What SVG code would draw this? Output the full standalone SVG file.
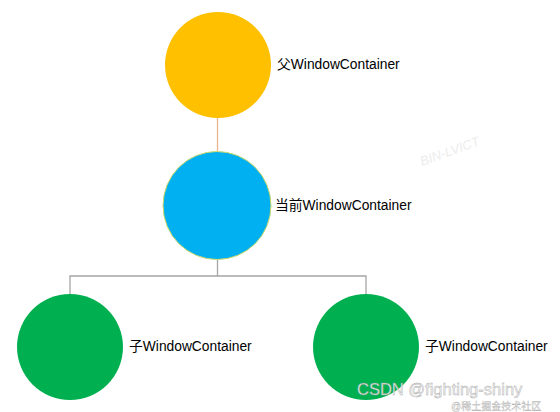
<svg xmlns="http://www.w3.org/2000/svg" width="560" height="412" viewBox="0 0 560 412">
<style>
.lbl{font-family:"Liberation Sans","Noto Sans CJK SC",sans-serif;font-size:13.8px;fill:#000}
.conn{fill:none;stroke:#A5A5A5;stroke-width:1.3}
</style>
<rect width="560" height="412" fill="#fff"/>
<g id="connectors">
<line x1="217.5" y1="118" x2="217.5" y2="152" stroke="#E9B48F" stroke-width="1.3"/>
<polyline class="conn" points="217.5,259 217.5,276 70,276 70,294"/>
<polyline class="conn" points="217.5,276 366,276 366,294"/>
</g>
<g id="parent">
<circle cx="218" cy="65" r="53" fill="#FFC000"/>
<text class="lbl" x="277" y="69">父WindowContainer</text>
</g>
<g id="current">
<circle cx="217" cy="205.5" r="54" fill="#00B0F0" stroke="#D6DC6A" stroke-width="1"/>
<text class="lbl" x="275" y="210">当前WindowContainer</text>
</g>
<g id="child1">
<circle cx="70" cy="347" r="53" fill="#00B050"/>
<text class="lbl" x="129" y="351">子WindowContainer</text>
</g>
<g id="child2">
<circle cx="366" cy="347" r="53" fill="#00B050"/>
<text class="lbl" x="425" y="351">子WindowContainer</text>
</g>
<text x="422" y="166" transform="rotate(-20 422 166)" font-family="Liberation Sans,sans-serif" font-size="13" font-style="italic" fill="#ECECEC">BIN-LVICT</text>
<text x="357" y="395" font-family="Liberation Sans,sans-serif" font-size="16.5" fill="#F2F2F2" stroke="#9A9A9A" stroke-width="0.4" opacity="0.9">CSDN @fighting-shiny</text>
<text x="451" y="410" font-family="Liberation Sans,'Noto Sans CJK SC',sans-serif" font-size="10" fill="#E8E8E8" stroke="#B0B0B0" stroke-width="0.3">@稀土掘金技术社区</text>
</svg>
